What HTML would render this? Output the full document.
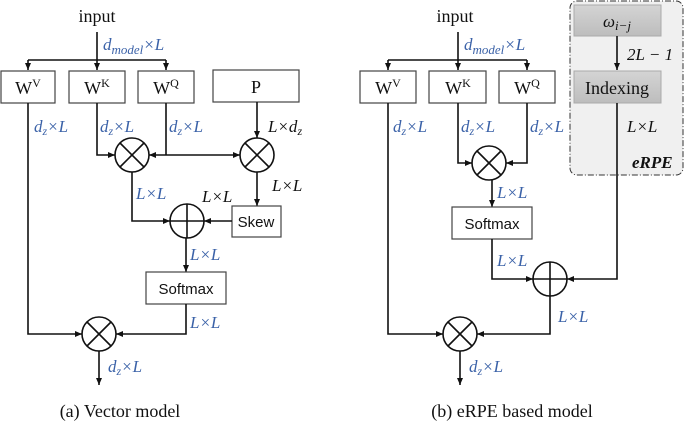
<!DOCTYPE html>
<html><head><meta charset="utf-8"><style>
html,body{margin:0;padding:0;background:#fff;}
svg{display:block;}
text{font-family:"Liberation Serif",serif;}
.b{fill:#3b62a8;font-style:italic;font-size:17px;}
.k{fill:#111;font-style:italic;font-size:17px;}
.bx{fill:#fff;stroke:#444;stroke-width:1.2;}
.ln{stroke:#111;stroke-width:1.6;fill:none;}
.c{fill:#fff;stroke:#111;stroke-width:1.6;}
.t{font-size:18px;fill:#111;}
.s{font-family:"Liberation Sans",sans-serif;font-size:15px;fill:#111;}
</style></head><body>
<svg width="685" height="426" viewBox="0 0 685 426">
<defs>
<marker id="a" markerWidth="8" markerHeight="8" refX="7" refY="4" orient="auto" markerUnits="userSpaceOnUse">
<path d="M0,1 L7,4 L0,7 z" fill="#111"/></marker>
<linearGradient id="g" x1="0" y1="0" x2="0" y2="1"><stop offset="0" stop-color="#d4d4d4"/><stop offset="1" stop-color="#bdbdbd"/></linearGradient>
</defs>

<!-- LEFT PANEL -->
<text x="97" y="22" class="t" text-anchor="middle" font-size="19">input</text>
<line x1="97" y1="32" x2="97" y2="70" class="ln" marker-end="url(#a)"/>
<line x1="28" y1="60" x2="166" y2="60" class="ln"/>
<line x1="28" y1="60" x2="28" y2="70" class="ln" marker-end="url(#a)"/>
<line x1="166" y1="60" x2="166" y2="70" class="ln" marker-end="url(#a)"/>
<text x="103" y="50" class="b">d<tspan font-size="13" dy="4">model</tspan><tspan dy="-4">×L</tspan></text>

<rect x="1" y="71" width="54" height="32" class="bx"/><text x="28" y="94" class="t" text-anchor="middle">W<tspan font-size="12" dy="-7">V</tspan></text>
<rect x="69" y="71" width="56" height="32" class="bx"/><text x="97" y="94" class="t" text-anchor="middle">W<tspan font-size="12" dy="-7">K</tspan></text>
<rect x="138" y="71" width="56" height="32" class="bx"/><text x="166" y="94" class="t" text-anchor="middle">W<tspan font-size="12" dy="-7">Q</tspan></text>
<rect x="213" y="70" width="86" height="32" class="bx"/><text x="256" y="93" class="t" text-anchor="middle">P</text>

<text x="34" y="132" class="b">d<tspan font-size="12" dy="3">z</tspan><tspan dy="-3">×L</tspan></text>
<text x="100" y="132" class="b">d<tspan font-size="12" dy="3">z</tspan><tspan dy="-3">×L</tspan></text>
<text x="169" y="132" class="b">d<tspan font-size="12" dy="3">z</tspan><tspan dy="-3">×L</tspan></text>
<text x="268" y="132" class="k">L×d<tspan font-size="12" dy="3">z</tspan></text>

<polyline points="28,103 28,334 82,334" class="ln" marker-end="url(#a)"/>
<polyline points="97,103 97,155 115,155" class="ln" marker-end="url(#a)"/>
<line x1="166" y1="103" x2="166" y2="155" class="ln"/>
<line x1="166" y1="155" x2="149" y2="155" class="ln" marker-end="url(#a)"/>
<line x1="166" y1="155" x2="240" y2="155" class="ln" marker-end="url(#a)"/>
<line x1="257" y1="102" x2="257" y2="138" class="ln" marker-end="url(#a)"/>

<circle cx="132" cy="155" r="17" class="c"/><path d="M120,143 L144,167 M144,143 L120,167" class="ln"/>
<circle cx="257" cy="155" r="17" class="c"/><path d="M245,143 L269,167 M269,143 L245,167" class="ln"/>

<polyline points="132,172 132,221 170,221" class="ln" marker-end="url(#a)"/>
<text x="136" y="199" class="b">L×L</text>
<text x="202" y="202" class="k">L×L</text>
<line x1="257" y1="172" x2="257" y2="206" class="ln" marker-end="url(#a)"/>
<text x="272" y="191" class="k">L×L</text>
<rect x="232" y="206" width="49" height="31" class="bx"/><text x="256" y="227" class="s" text-anchor="middle">Skew</text>
<line x1="232" y1="221" x2="204" y2="221" class="ln" marker-end="url(#a)"/>
<circle cx="187" cy="221" r="17" class="c"/><path d="M187,204 L187,238 M170,221 L204,221" class="ln"/>

<line x1="186" y1="238" x2="186" y2="272" class="ln" marker-end="url(#a)"/>
<text x="190" y="260" class="b">L×L</text>
<rect x="146" y="272" width="80" height="32" class="bx"/><text x="186" y="294" class="s" text-anchor="middle">Softmax</text>
<polyline points="186,304 186,334 116,334" class="ln" marker-end="url(#a)"/>
<text x="190" y="328" class="b">L×L</text>
<circle cx="99" cy="334" r="17" class="c"/><path d="M87,322 L111,346 M111,322 L87,346" class="ln"/>
<line x1="99" y1="351" x2="99" y2="385" class="ln" marker-end="url(#a)"/>
<text x="108" y="372" class="b">d<tspan font-size="12" dy="3">z</tspan><tspan dy="-3">×L</tspan></text>
<text x="120" y="417" class="t" text-anchor="middle">(a) Vector model</text>

<!-- RIGHT PANEL -->
<rect x="570" y="1" width="113" height="174" rx="7" fill="#f0f0f0" stroke="#333" stroke-width="1" stroke-dasharray="6,2,1,2"/>
<rect x="574" y="5" width="87" height="31" fill="url(#g)" stroke="#aaa"/>
<text x="617" y="27" class="k" text-anchor="middle" font-size="19">ω<tspan font-size="13" dy="3">i−j</tspan></text>
<line x1="617" y1="36" x2="617" y2="70" class="ln" marker-end="url(#a)"/>
<text x="627" y="60" class="k">2L − 1</text>
<rect x="574" y="71" width="87" height="32" fill="url(#g)" stroke="#aaa"/>
<text x="617" y="94" class="t" text-anchor="middle">Indexing</text>
<text x="627" y="132" class="k">L×L</text>
<text x="632" y="168" class="k" font-weight="bold">eRPE</text>

<text x="455" y="22" class="t" text-anchor="middle" font-size="19">input</text>
<line x1="458" y1="32" x2="458" y2="70" class="ln" marker-end="url(#a)"/>
<line x1="388" y1="60" x2="527" y2="60" class="ln"/>
<line x1="388" y1="60" x2="388" y2="70" class="ln" marker-end="url(#a)"/>
<line x1="527" y1="60" x2="527" y2="70" class="ln" marker-end="url(#a)"/>
<text x="464" y="50" class="b">d<tspan font-size="13" dy="4">model</tspan><tspan dy="-4">×L</tspan></text>

<rect x="360" y="71" width="56" height="32" class="bx"/><text x="388" y="94" class="t" text-anchor="middle">W<tspan font-size="12" dy="-7">V</tspan></text>
<rect x="429" y="71" width="57" height="32" class="bx"/><text x="458" y="94" class="t" text-anchor="middle">W<tspan font-size="12" dy="-7">K</tspan></text>
<rect x="499" y="71" width="56" height="32" class="bx"/><text x="527" y="94" class="t" text-anchor="middle">W<tspan font-size="12" dy="-7">Q</tspan></text>

<text x="393" y="132" class="b">d<tspan font-size="12" dy="3">z</tspan><tspan dy="-3">×L</tspan></text>
<text x="461" y="132" class="b">d<tspan font-size="12" dy="3">z</tspan><tspan dy="-3">×L</tspan></text>
<text x="530" y="132" class="b">d<tspan font-size="12" dy="3">z</tspan><tspan dy="-3">×L</tspan></text>

<polyline points="388,103 388,334 443,334" class="ln" marker-end="url(#a)"/>
<polyline points="458,103 458,163 472,163" class="ln" marker-end="url(#a)"/>
<polyline points="527,103 527,163 506,163" class="ln" marker-end="url(#a)"/>
<circle cx="489" cy="163" r="17" class="c"/><path d="M477,151 L501,175 M501,151 L477,175" class="ln"/>
<line x1="492" y1="180" x2="492" y2="207" class="ln" marker-end="url(#a)"/>
<text x="497" y="198" class="b">L×L</text>
<rect x="452" y="207" width="80" height="32" class="bx"/><text x="492" y="229" class="s" text-anchor="middle">Softmax</text>
<polyline points="492,239 492,279 533,279" class="ln" marker-end="url(#a)"/>
<text x="497" y="266" class="b">L×L</text>
<polyline points="617,103 617,279 567,279" class="ln" marker-end="url(#a)"/>
<circle cx="550" cy="279" r="17" class="c"/><path d="M550,262 L550,296 M533,279 L567,279" class="ln"/>
<polyline points="550,296 550,334 477,334" class="ln" marker-end="url(#a)"/>
<text x="558" y="322" class="b">L×L</text>
<circle cx="460" cy="334" r="17" class="c"/><path d="M448,322 L472,346 M472,322 L448,346" class="ln"/>
<line x1="460" y1="351" x2="460" y2="385" class="ln" marker-end="url(#a)"/>
<text x="469" y="372" class="b">d<tspan font-size="12" dy="3">z</tspan><tspan dy="-3">×L</tspan></text>
<text x="512" y="417" class="t" text-anchor="middle">(b) eRPE based model</text>
</svg>
</body></html>
